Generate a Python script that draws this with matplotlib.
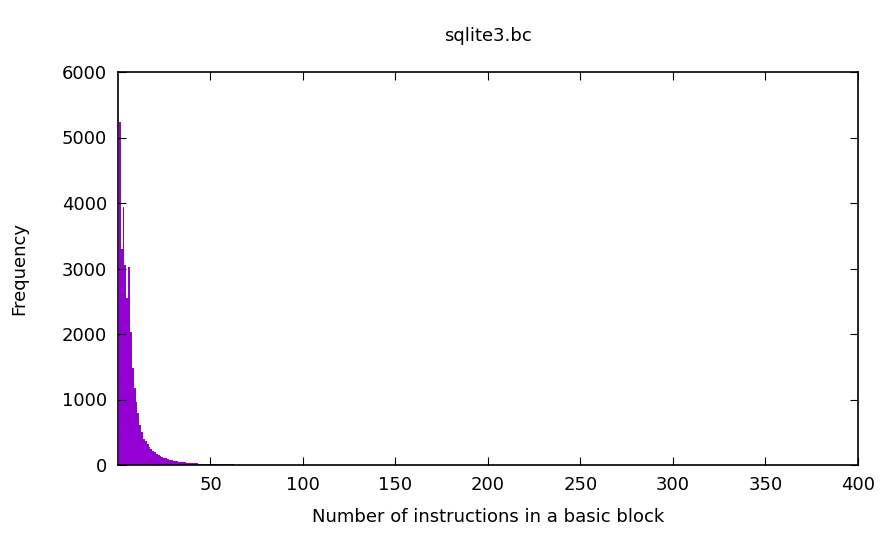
import numpy as np
import matplotlib.pyplot as plt

# instruction counts (1..) and block frequencies
counts_head = [5240, 3300, 3940, 3050, 2550, 3020, 2030, 1480, 1170, 960,
               790, 610, 500, 400, 360, 320, 280, 250, 220, 195,
               175, 155, 140, 125, 112, 100, 90, 82, 75, 68,
               62, 56, 51, 47, 43, 40, 37, 34, 31, 29,
               27, 25, 23, 21, 20, 19, 18, 17, 16, 15,
               14, 13, 12, 12, 11, 11, 10, 10, 9, 9]
counts_tail = [8, 8, 7, 7, 7, 6, 6, 6, 5, 5, 5, 5, 4, 4, 4, 4, 4, 3, 3, 3,
               3, 3, 3, 3, 2, 2, 2, 2, 2, 2, 2, 2, 2, 2, 2, 1, 1, 1, 1, 1,
               1, 1, 1, 1, 1, 1, 1, 1, 1, 1, 1, 1, 1, 1, 1, 1, 1, 1, 1, 1]
freq = counts_head + counts_tail
sizes = np.arange(1, len(freq) + 1)

fig = plt.figure(figsize=(8.95, 5.39), dpi=100)
ax = fig.add_axes([118/895, 1 - 465/539, (858-118)/895, (465-72)/539])
ax.bar(sizes, freq, width=1.0, align='center', color='#9400d3', linewidth=0)
ax.set_xlim(0, 400)
ax.set_ylim(0, 6000)
ax.set_xticks(range(50, 401, 50))
ax.set_yticks(range(0, 6001, 1000))
ax.tick_params(direction='in', top=True, right=True, labelsize=13, length=6, pad=8)
for s in ax.spines.values():
    s.set_linewidth(1.2)
ax.set_title('sqlite3.bc', fontsize=13, pad=22)
ax.set_xlabel('Number of instructions in a basic block', fontsize=13, labelpad=10)
ax.set_ylabel('Frequency', fontsize=13, labelpad=24)
fig.savefig('out.png')
